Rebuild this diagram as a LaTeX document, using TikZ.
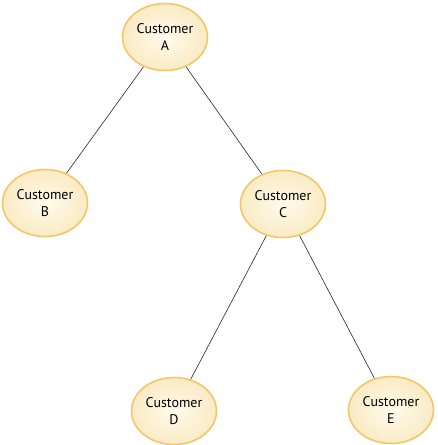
\documentclass[tikz,border=0pt]{standalone}
\usepackage{fontspec}
\setmainfont{PT Sans}
\usetikzlibrary{shapes.geometric}
\definecolor{custin}{HTML}{FFFAEC}
\definecolor{custout}{HTML}{FAEBC4}
\definecolor{custline}{HTML}{F2C76A}
\tikzset{mcust/.style={ellipse,draw=custline,line width=1.6pt,inner color=custin,outer color=custout,minimum width=85pt,minimum height=67pt,inner sep=0pt,align=center,font=\fontsize{14}{17}\selectfont}}
\tikzset{mlink/.style={draw,black!85,line width=0.6pt}}

\begin{document}
\begin{tikzpicture}[x=1pt,y=-1pt]
\useasboundingbox (0,0) rectangle (438,445);
\node[mcust] (A) at (165,37) {Customer\\A};
\node[mcust] (B) at (45,203) {Customer\\B};
\node[mcust] (C) at (283,204) {Customer\\C};
\node[mcust] (D) at (174,411) {Customer\\D};
\node[mcust] (E) at (391,410) {Customer\\E};

\draw[mlink] (A) -- (B);
\draw[mlink] (A) -- (C);
\draw[mlink] (C) -- (D);
\draw[mlink] (C) -- (E);

\end{tikzpicture}
\end{document}
